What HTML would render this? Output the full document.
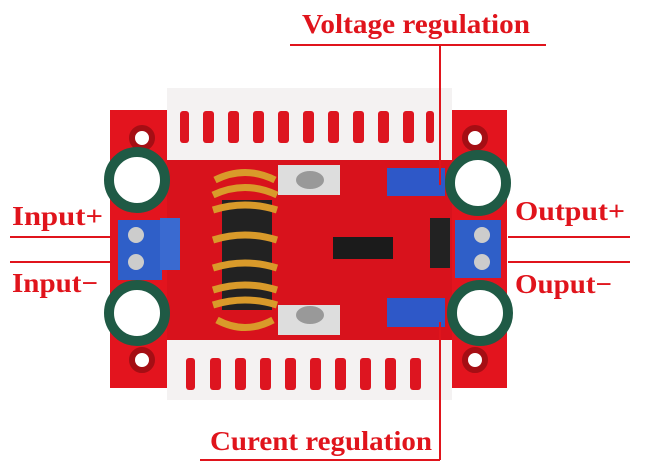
<!DOCTYPE html>
<html><head><meta charset="utf-8"><style>
body{margin:0;background:#fff;width:650px;height:470px;overflow:hidden}
svg{display:block}
text{font-family:"Liberation Serif",serif;font-weight:bold;fill:#e0141c}
</style></head><body>
<svg width="650" height="470" viewBox="0 0 650 470">
<rect x="110" y="110" width="57" height="278" fill="#e3141e"/>
<rect x="452" y="110" width="55" height="278" fill="#e3141e"/>
<rect x="167" y="160" width="285" height="182" fill="#d8121c"/>
<rect x="167" y="88" width="285" height="72" fill="#f4f2f2"/>
<g fill="#dd1520">
<rect x="180" y="111" width="9" height="32" rx="3"/>
<rect x="203" y="111" width="11" height="32" rx="3"/>
<rect x="228" y="111" width="11" height="32" rx="3"/>
<rect x="253" y="111" width="11" height="32" rx="3"/>
<rect x="278" y="111" width="11" height="32" rx="3"/>
<rect x="303" y="111" width="11" height="32" rx="3"/>
<rect x="328" y="111" width="11" height="32" rx="3"/>
<rect x="353" y="111" width="11" height="32" rx="3"/>
<rect x="378" y="111" width="11" height="32" rx="3"/>
<rect x="403" y="111" width="11" height="32" rx="3"/>
<rect x="426" y="111" width="8" height="32" rx="3"/>
</g>
<rect x="167" y="340" width="285" height="60" fill="#f4f2f2"/>
<g fill="#dd1520">
<rect x="186" y="358" width="9" height="32" rx="3"/>
<rect x="210" y="358" width="11" height="32" rx="3"/>
<rect x="235" y="358" width="11" height="32" rx="3"/>
<rect x="260" y="358" width="11" height="32" rx="3"/>
<rect x="285" y="358" width="11" height="32" rx="3"/>
<rect x="310" y="358" width="11" height="32" rx="3"/>
<rect x="335" y="358" width="11" height="32" rx="3"/>
<rect x="360" y="358" width="11" height="32" rx="3"/>
<rect x="385" y="358" width="11" height="32" rx="3"/>
<rect x="410" y="358" width="11" height="32" rx="3"/>
</g>
<g fill="#fff" stroke="#a50e14" stroke-width="6">
<circle cx="142" cy="138" r="10"/><circle cx="475" cy="138" r="10"/>
<circle cx="142" cy="360" r="10"/><circle cx="475" cy="360" r="10"/>
</g>
<rect x="278" y="165" width="62" height="30" fill="#ddd"/><ellipse cx="310" cy="180" rx="14" ry="9" fill="#999"/>
<rect x="278" y="305" width="62" height="30" fill="#ddd"/><ellipse cx="310" cy="315" rx="14" ry="9" fill="#999"/>
<rect x="222" y="200" width="50" height="110" fill="#222"/>
<g fill="none" stroke="#d99a2a" stroke-width="7">
<path d="M215 180 Q245 165 275 180"/><path d="M213 195 Q245 180 277 195"/><path d="M213 210 Q245 200 277 210"/>
<path d="M213 240 Q245 230 277 240"/><path d="M213 268 Q245 258 277 268"/><path d="M213 290 Q245 280 277 290"/>
<path d="M213 305 Q245 295 277 305"/><path d="M217 320 Q245 335 273 320"/>
</g>
<rect x="333" y="237" width="60" height="22" fill="#1b1b1b"/>
<rect x="430" y="218" width="20" height="50" fill="#222"/>
<rect x="118" y="220" width="44" height="60" fill="#2f5fc8"/>
<circle cx="136" cy="235" r="8" fill="#ccc"/><circle cx="136" cy="262" r="8" fill="#ccc"/>
<rect x="160" y="218" width="20" height="52" fill="#3a6ad0"/>
<rect x="455" y="220" width="46" height="58" fill="#2f5fc8"/>
<circle cx="482" cy="235" r="8" fill="#ccc"/><circle cx="482" cy="262" r="8" fill="#ccc"/>
<rect x="387" y="168" width="58" height="28" fill="#2e58c8"/>
<rect x="387" y="298" width="58" height="29" fill="#2e58c8"/>
<g stroke="#1f5a45" stroke-width="10" fill="#fff">
<circle cx="137" cy="180" r="28"/><circle cx="137" cy="313" r="28"/>
<circle cx="478" cy="183" r="28"/><circle cx="480" cy="313" r="28"/>
</g>
<g stroke="#e0141c" stroke-width="2">
<line x1="290" y1="45" x2="546" y2="45"/><line x1="440" y1="45" x2="440" y2="185"/>
<line x1="200" y1="460" x2="440" y2="460"/><line x1="440" y1="322" x2="440" y2="460"/>
<line x1="10" y1="237" x2="112" y2="237"/><line x1="10" y1="262" x2="112" y2="262"/>
<line x1="508" y1="237" x2="630" y2="237"/><line x1="508" y1="262" x2="630" y2="262"/>
</g>
<text x="302" y="33" font-size="27" textLength="228" lengthAdjust="spacingAndGlyphs">Voltage regulation</text>
<text x="12" y="225" font-size="27" textLength="91" lengthAdjust="spacingAndGlyphs">Input+</text>
<text x="12" y="292" font-size="27" textLength="86" lengthAdjust="spacingAndGlyphs">Input−</text>
<text x="515" y="220" font-size="27" textLength="110" lengthAdjust="spacingAndGlyphs">Output+</text>
<text x="515" y="293" font-size="27" textLength="97" lengthAdjust="spacingAndGlyphs">Ouput−</text>
<text x="210" y="450" font-size="27" textLength="222" lengthAdjust="spacingAndGlyphs">Curent regulation</text>
</svg>
</body></html>
